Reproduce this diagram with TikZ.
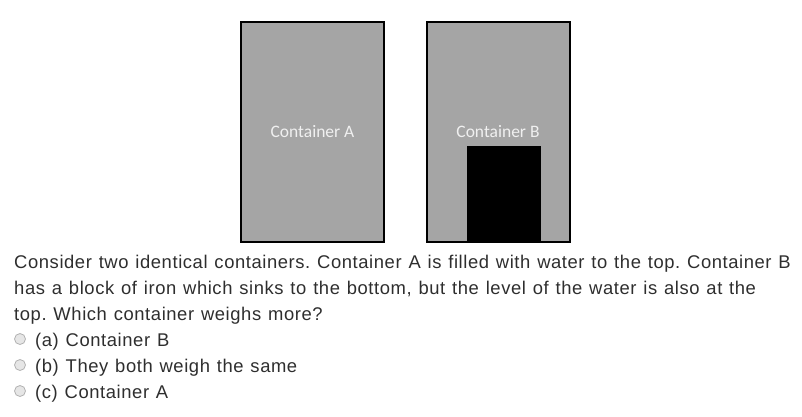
\documentclass[tikz,border=0pt]{standalone}
\usepackage{fontspec}
\setmainfont{Liberation Sans}[LetterSpace=3.2, WordSpace=1.2]
\newfontfamily\tagfont{Carlito}
\usetikzlibrary{positioning}
\definecolor{water}{HTML}{A5A5A5}
\definecolor{qtext}{HTML}{2E2E2E}
\definecolor{rgray}{HTML}{B2B2B2}
\definecolor{rfill}{HTML}{E6E6E6}
\tikzstyle{container} = [rectangle, draw=black, line width=2pt, fill=water, minimum width=143pt, minimum height=220pt, inner sep=0pt, text=white!94!black, font=\tagfont\fontsize{17.5}{20}\selectfont]
\tikzstyle{iron} = [rectangle, fill=black, minimum width=74pt, minimum height=95pt, inner sep=0pt]
\tikzstyle{question} = [anchor=base west, inner sep=0pt, text=qtext, font=\fontsize{18.4}{22}\selectfont\frenchspacing]
\tikzstyle{radio} = [circle, draw=rgray, fill=rfill, minimum size=11pt, inner sep=0pt, line width=0.8pt]

\begin{document}
\begin{tikzpicture}[x=1pt, y=-1pt]
  \useasboundingbox (0,0) rectangle (802,416);
  % the two containers
  \node (contA) [container] at (312.5,132) {Container A};
  \node (contB) [container] at (498,132) {Container B};
  \node (block) [iron, anchor=south] at (504,241) {};
  % question
  \node (q1) [question] at (14,268) {Consider two identical containers. Container A is filled with water to the top. Container B};
  \node (q2) [question] at (14,294) {has a block of iron which sinks to the bottom, but the level of the water is also at the};
  \node (q3) [question] at (14,320) {top. Which container weighs more?};
  % answers
  \node (optA) [question] at (35,346) {(a) Container B};
  \node (optB) [question] at (35,372) {(b) They both weigh the same};
  \node (optC) [question] at (35,398) {(c) Container A};
  \node (radA) [radio] at (20,339) {};
  \node (radB) [radio] at (20,365) {};
  \node (radC) [radio] at (20,391) {};
\end{tikzpicture}
\end{document}
